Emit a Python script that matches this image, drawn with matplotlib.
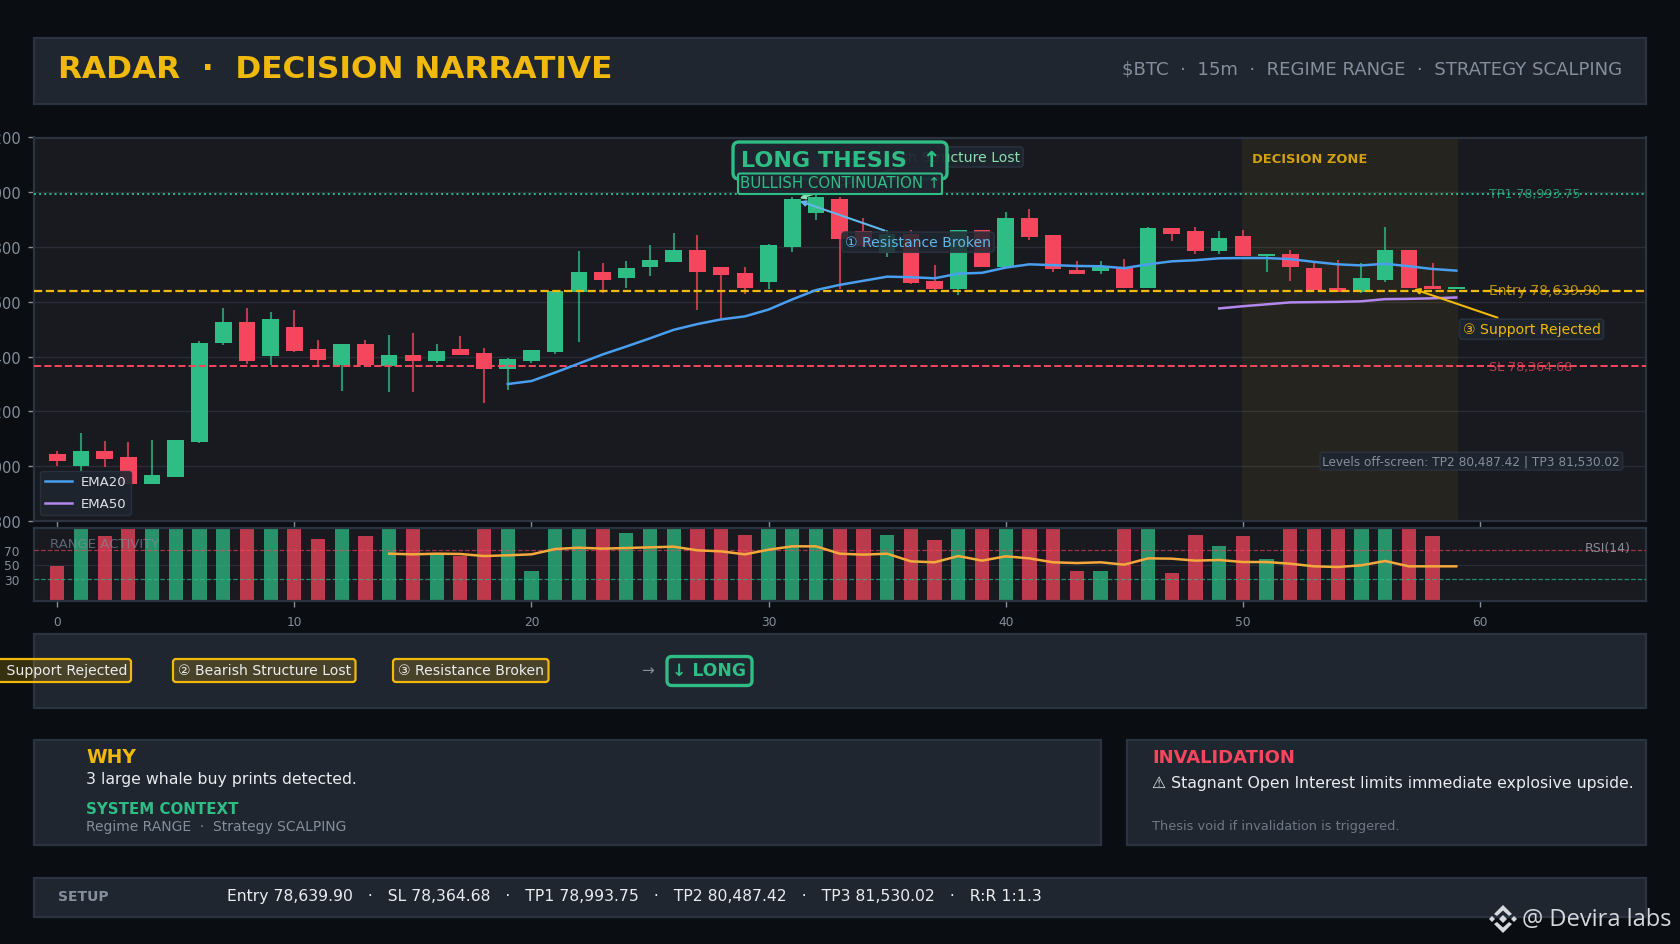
import numpy as np
import matplotlib
matplotlib.use("Agg")
import matplotlib.pyplot as plt
from matplotlib.patches import FancyBboxPatch, Rectangle, Polygon

plt.rcParams["font.family"] = ["DejaVu Sans"]

BG = "#0a0e12"
PANEL = "#1f2630"
CHART = "#181a20"
BORDER = "#2b3340"
GREEN = "#2ebd85"
RED = "#f6465d"
YELLOW = "#f0b90b"
GREY = "#848e9c"
WHITE = "#eaecef"
BLUE = "#4a9eef"
PURPLE = "#b388ee"
ORANGE = "#f5a83c"

# candles 0..59
opens = [78044, 78001, 78055, 78033, 77935, 77961, 78088, 78449, 78526, 78402,
         78508, 78427, 78369, 78446, 78365, 78405, 78384, 78427, 78413, 78354,
         78384, 78416, 78635, 78708, 78686, 78726, 78745, 78788, 78726, 78705,
         78672, 78799, 78923, 78974, 78858, 78780, 78847, 78675, 78646, 78861,
         78726, 78905, 78843, 78715, 78712, 78725, 78650, 78869, 78858, 78785,
         78840, 78767, 78774, 78723, 78650, 78635, 78679, 78788, 78657, 78646]
highs = [78055, 78121, 78092, 78088, 78095, 78095, 78457, 78577, 78577, 78562,
         78570, 78460, 78446, 78460, 78478, 78486, 78446, 78475, 78431, 78395,
         78424, 78641, 78785, 78741, 78748, 78807, 78850, 78843, 78726, 78726,
         78810, 78982, 78993, 78982, 78905, 78861, 78861, 78734, 78861, 78861,
         78927, 78938, 78843, 78748, 78748, 78756, 78872, 78869, 78872, 78858,
         78861, 78774, 78788, 78745, 78752, 78741, 78872, 78788, 78741, 78654]
lows = [78001, 77978, 77997, 77935, 77935, 77961, 78085, 78442, 78373, 78369,
        78416, 78369, 78274, 78365, 78271, 78271, 78376, 78405, 78230, 78278,
        78376, 78409, 78453, 78632, 78650, 78694, 78745, 78570, 78537, 78628,
        78646, 78781, 78898, 78646, 78802, 78763, 78664, 78643, 78624, 78726,
        78723, 78825, 78708, 78701, 78701, 78650, 78650, 78821, 78774, 78774,
        78767, 78708, 78675, 78643, 78635, 78632, 78672, 78650, 78646, 78646]
closes = [78019, 78055, 78026, 77935, 77968, 78095, 78449, 78526, 78384, 78537,
          78420, 78387, 78446, 78369, 78405, 78384, 78420, 78405, 78354, 78391,
          78424, 78641, 78708, 78679, 78723, 78752, 78788, 78708, 78697, 78650,
          78807, 78974, 78982, 78829, 78804, 78847, 78668, 78646, 78861, 78726,
          78905, 78836, 78719, 78701, 78726, 78650, 78869, 78847, 78785, 78832,
          78767, 78774, 78726, 78643, 78635, 78686, 78788, 78650, 78646, 78654]

ema20 = [78300, 78311, 78342, 78375, 78408, 78437, 78467, 78498, 78519, 78536,
         78547, 78572, 78609, 78643, 78662, 78677, 78692, 78690, 78686, 78703,
         78706, 78725, 78737, 78734, 78731, 78730, 78723, 78737, 78748, 78752,
         78759, 78760, 78760, 78756, 78746, 78737, 78733, 78739, 78730, 78720,
         78714]
ema50 = [78576, 78584, 78591, 78598, 78599, 78600, 78602, 78610, 78611, 78613, 78616]

volumes = [48, 100, 89, 100, 100, 100, 100, 100, 100, 100,
           100, 85, 100, 89, 100, 100, 64, 62, 100, 100,
           41, 100, 100, 100, 93, 100, 98, 100, 100, 91,
           100, 100, 100, 100, 98, 90, 100, 83, 100, 100,
           100, 100, 100, 41, 41, 100, 100, 38, 90, 76,
           89, 57, 100, 100, 100, 100, 100, 100, 89, 1]
rsi = [64.8, 63.9, 64.8, 64.4, 61.6, 62.6, 63.9, 71.2, 73.0, 71.7,
       72.6, 73.5, 74.4, 69.4, 68.0, 63.9, 70.3, 74.9, 74.9, 64.8,
       63.5, 64.8, 54.3, 53.0, 61.6, 55.3, 61.2, 58.4, 53.0, 52.0,
       53.0, 49.8, 58.4, 58.0, 55.3, 56.2, 53.4, 53.4, 51.1, 47.5,
       46.6, 48.9, 54.8, 47.5, 47.5, 47.5]

entry = 78639.90
stop = 78364.68
tp1 = 78993.75
price_ticks = [77800, 78000, 78200, 78400, 78600, 78800, 79000, 79200]
rsi_ticks = [30, 50, 70]
index_ticks = [0, 10, 20, 30, 40, 50, 60]

W, H = 1680, 945


def px_axes(x0, y0, x1, y1):
    # axes rectangle given in image pixels, y from the top
    return [x0 / W, 1 - y1 / H, (x1 - x0) / W, (y1 - y0) / H]


fig = plt.figure(figsize=(16.8, 9.45), dpi=100, facecolor=BG)

# background layer in pixel coordinates
back = fig.add_axes([0, 0, 1, 1], zorder=0)
back.set_xlim(0, W)
back.set_ylim(H - 1, -1)
back.axis("off")

for x0, y0, x1, y1 in [(33.5, 38, 1646, 104), (33.5, 634, 1646, 708), (33.5, 740, 1100.5, 845),
                       (1127, 740, 1646, 845), (33.5, 878, 1646, 917)]:
    back.add_patch(Rectangle((x0, y0), x1 - x0, y1 - y0, fc=PANEL, ec=BORDER, lw=1.6))

back.text(58, 69, "RADAR  ·  DECISION NARRATIVE", color=YELLOW, fontsize=22.4, fontweight="bold", va="center")
back.text(1622, 69, "$BTC  ·  15m  ·  REGIME RANGE  ·  STRATEGY SCALPING", color=GREY, fontsize=13.05,
          ha="right", va="center")


def chip(x0, x1, label, right=None):
    back.add_patch(FancyBboxPatch((x0, 659), x1 - x0, 23, boxstyle="round,pad=0,rounding_size=3",
                                  fc=(0.94, 0.73, 0.04, 0.2), ec=YELLOW, lw=1.6))
    if right is None:
        back.text((x0 + x1) / 2, 670, label, color=WHITE, fontsize=10.1, ha="center", va="center")
    else:
        back.text(right, 670, label, color=WHITE, fontsize=10.1, ha="right", va="center")


chip(-40, 131, "①  Support Rejected", right=127)
chip(173, 355.5, "② Bearish Structure Lost")
chip(393, 548.5, "③ Resistance Broken")
back.text(648, 670, "→", color=GREY, fontsize=11, ha="center", va="center")
back.add_patch(FancyBboxPatch((667, 656.5), 85, 29, boxstyle="round,pad=0,rounding_size=5",
                              fc=PANEL, ec=GREEN, lw=2.4))
back.text(709.5, 669.5, "↓ LONG", color=GREEN, fontsize=12.3, fontweight="bold", ha="center", va="center")

back.text(86.5, 757, "WHY", color=YELLOW, fontsize=13.5, fontweight="bold", va="center")
back.text(86.5, 779, "3 large whale buy prints detected.", color=WHITE, fontsize=11.3, va="center")
back.text(86.5, 809, "SYSTEM CONTEXT", color=GREEN, fontsize=10.8, fontweight="bold", va="center")
back.text(86.5, 826.5, "Regime RANGE  ·  Strategy SCALPING", color=GREY, fontsize=10, va="center")
back.text(1152, 757, "INVALIDATION", color=RED, fontsize=13, fontweight="bold", va="center")
back.text(1152, 783, "⚠ Stagnant Open Interest limits immediate explosive upside.", color=WHITE, fontsize=11.33,
          va="center")
back.text(1152.5, 825.5, "Thesis void if invalidation is triggered.", color="#6f7885", fontsize=9.3, va="center")
back.text(58, 896, "SETUP", color=GREY, fontsize=10, fontweight="bold", va="center")
back.text(227, 896, "Entry 78,639.90   ·   SL 78,364.68   ·   TP1 78,993.75   ·   TP2 80,487.42   ·   "
                    "TP3 81,530.02   ·   R:R 1:1.3", color=WHITE, fontsize=11.27, va="center")

# price chart
ax = fig.add_axes(px_axes(33.5, 138.5, 1646, 522), zorder=1, facecolor=CHART)
x = np.arange(len(opens))
o = np.array(opens)
c = np.array(closes)
up = c >= o
colors = [GREEN if u else RED for u in up]
ax.vlines(x, lows, highs, colors=colors, lw=1.5, alpha=0.75, zorder=3)
ax.bar(x, np.abs(c - o), bottom=np.minimum(o, c), width=0.7, color=colors, zorder=4)
ax.axvspan(49.97, 59.07, color=YELLOW, alpha=0.065, lw=0, zorder=1)
ax.yaxis.grid(True, color="#2a2d35", lw=1, zorder=0)
ax.set_axisbelow(True)

ax.axhline(tp1, color=GREEN, ls=":", lw=1.4, zorder=5)
ax.axhline(entry, color=YELLOW, ls="--", lw=1.6, zorder=5)
ax.axhline(stop, color=RED, ls="--", lw=1.4, zorder=5)
ax.plot(x[19:], ema20, color=BLUE, lw=1.8, label="EMA20", zorder=6)
ax.plot(x[49:], ema50, color=PURPLE, lw=1.8, label="EMA50", zorder=6)

ax.text(60.4, tp1, "TP1 78,993.75", color=GREEN, alpha=0.75, fontsize=9.1, va="center", zorder=7)
ax.text(60.4, entry + 3, "Entry 78,639.90", color=YELLOW, alpha=0.75, fontsize=10, va="center", zorder=7)
ax.text(60.4, stop, "SL 78,364.68", color=RED, alpha=0.75, fontsize=9.1, va="center", zorder=7)
ax.text(50.4, 79125, "DECISION ZONE", color=YELLOW, alpha=0.85, fontsize=9.4, fontweight="bold", va="center", zorder=7)

box = dict(boxstyle="round,pad=0.22", fc=PANEL, ec=BORDER, lw=1.2, alpha=0.85)
ax.annotate("② Bearish Structure Lost", xy=(31.2, 78975), xytext=(36.95, 79129), color="#8fdcae", fontsize=10.1,
            ha="center", va="center", bbox=box, zorder=8,
            arrowprops=dict(arrowstyle="-|>", color="#8fdcae", lw=1.3, mutation_scale=8))
ax.annotate("① Resistance Broken", xy=(31.2, 78971), xytext=(36.3, 78818), color="#62b6ea", fontsize=10.1,
            ha="center", va="center", bbox=box, zorder=9,
            arrowprops=dict(arrowstyle="-|>", color="#62b6ea", lw=1.5, mutation_scale=8))
ax.annotate("③ Support Rejected", xy=(57.1, 78650), xytext=(62.17, 78500), color=YELLOW, fontsize=10.1,
            ha="center", va="center", bbox=box, zorder=9,
            arrowprops=dict(arrowstyle="-|>", color=YELLOW, lw=1.5, mutation_scale=8))
ax.text(0.984, 0.156, "Levels off-screen: TP2 80,487.42 | TP3 81,530.02", transform=ax.transAxes, color=GREY,
        fontsize=8.7, ha="right", va="center", zorder=9,
        bbox=dict(boxstyle="round,pad=0.2", fc=PANEL, ec=BORDER, lw=1, alpha=0.9))

ax.set_xlim(-1, 67)
ax.set_ylim(77800, 79200)
ax.set_xticks(index_ticks)
ax.set_yticks(price_ticks)
ax.tick_params(axis="y", colors=GREY, labelsize=10.5, length=4.5, width=1, pad=4.5)
ax.tick_params(axis="x", colors=GREY, labelbottom=False, length=4, width=1)
for s in ax.spines.values():
    s.set_color(BORDER)
    s.set_linewidth(1.6)
leg = ax.legend(loc="lower left", bbox_to_anchor=(0.004, 0.0156), borderaxespad=0, fontsize=9.5, labelcolor="#e0e2e6",
                facecolor=PANEL, edgecolor=BORDER, framealpha=0.9, handlelength=2.1, handletextpad=0.65,
                labelspacing=0.7, borderpad=0.35)
leg.set_zorder(10)

# volume / rsi strip
ax2 = fig.add_axes(px_axes(33.5, 529, 1646, 602), zorder=1, facecolor=CHART)
ax2.bar(x, volumes, width=0.6, color=colors, alpha=0.75, zorder=2)
ax2.axhline(70, color=RED, ls="--", lw=0.9, alpha=0.6, zorder=3)
ax2.axhline(30, color=GREEN, ls="--", lw=0.9, alpha=0.7, zorder=3)
ax2.axhline(50, color="#2a2d35", lw=0.8, zorder=1)
ax2.plot(x[14:], rsi, color=ORANGE, lw=1.8, zorder=4)
ax2.text(0.0105, 0.79, "RANGE ACTIVITY", transform=ax2.transAxes, color=GREY, alpha=0.65, fontsize=9.5,
         va="center", zorder=5)
ax2.text(0.9905, 0.73, "RSI(14)", transform=ax2.transAxes, color=GREY, fontsize=9, ha="right", va="center", zorder=5)
ax2.set_xlim(-1, 67)
ax2.set_ylim(0, 100)
ax2.set_xticks(index_ticks)
ax2.set_yticks(rsi_ticks)
ax2.tick_params(axis="both", colors=GREY, labelsize=8.8, length=4, width=1)
ax2.tick_params(axis="x", pad=6)
ax2.tick_params(axis="y", length=0, pad=10)
for s in ax2.spines.values():
    s.set_color(BORDER)
    s.set_linewidth(1.6)

# top layer, thesis stamp and watermark
top = fig.add_axes([0, 0, 1, 1], zorder=5)
top.set_xlim(0, W)
top.set_ylim(H - 1, -1)
top.axis("off")
top.patch.set_alpha(0)
top.add_patch(FancyBboxPatch((733, 142), 214, 37, boxstyle="round,pad=0,rounding_size=6",
                             fc=(0.12, 0.15, 0.19, 0.95), ec=GREEN, lw=2.4))
top.text(741, 160, "LONG THESIS  ↑", color=GREEN, fontsize=16, fontweight="bold", va="center")
top.add_patch(FancyBboxPatch((738, 173.5), 204, 20.5, boxstyle="round,pad=0,rounding_size=2",
                             fc=(0.12, 0.15, 0.19, 0.95), ec=GREEN, lw=1.5))
top.text(840, 183, "BULLISH CONTINUATION ↑", color=GREEN, fontsize=10.8, ha="center", va="center")

wm = "#d5d8dc"
cx, cy = 1503, 919
top.add_patch(Polygon([(cx, cy - 4), (cx + 4, cy), (cx, cy + 4), (cx - 4, cy)], fc=wm, ec="none"))
for sx in (-1, 1):
    top.add_patch(Polygon([(cx + sx * 14, cy), (cx + sx * 11, cy - 3), (cx + sx * 8, cy), (cx + sx * 11, cy + 3)],
                          fc=wm, ec="none"))
for sy in (-1, 1):
    top.add_patch(Polygon([(cx - 9, cy + sy * 5), (cx, cy + sy * 14), (cx + 9, cy + sy * 5), (cx + 6, cy + sy * 3),
                           (cx, cy + sy * 8.5), (cx - 6, cy + sy * 3)], fc=wm, ec="none"))
top.text(1522, 919, "@ Devira labs", color=wm, fontsize=17, family="Open Sans", va="center")

fig.savefig("out.png", dpi=100, facecolor=BG)
